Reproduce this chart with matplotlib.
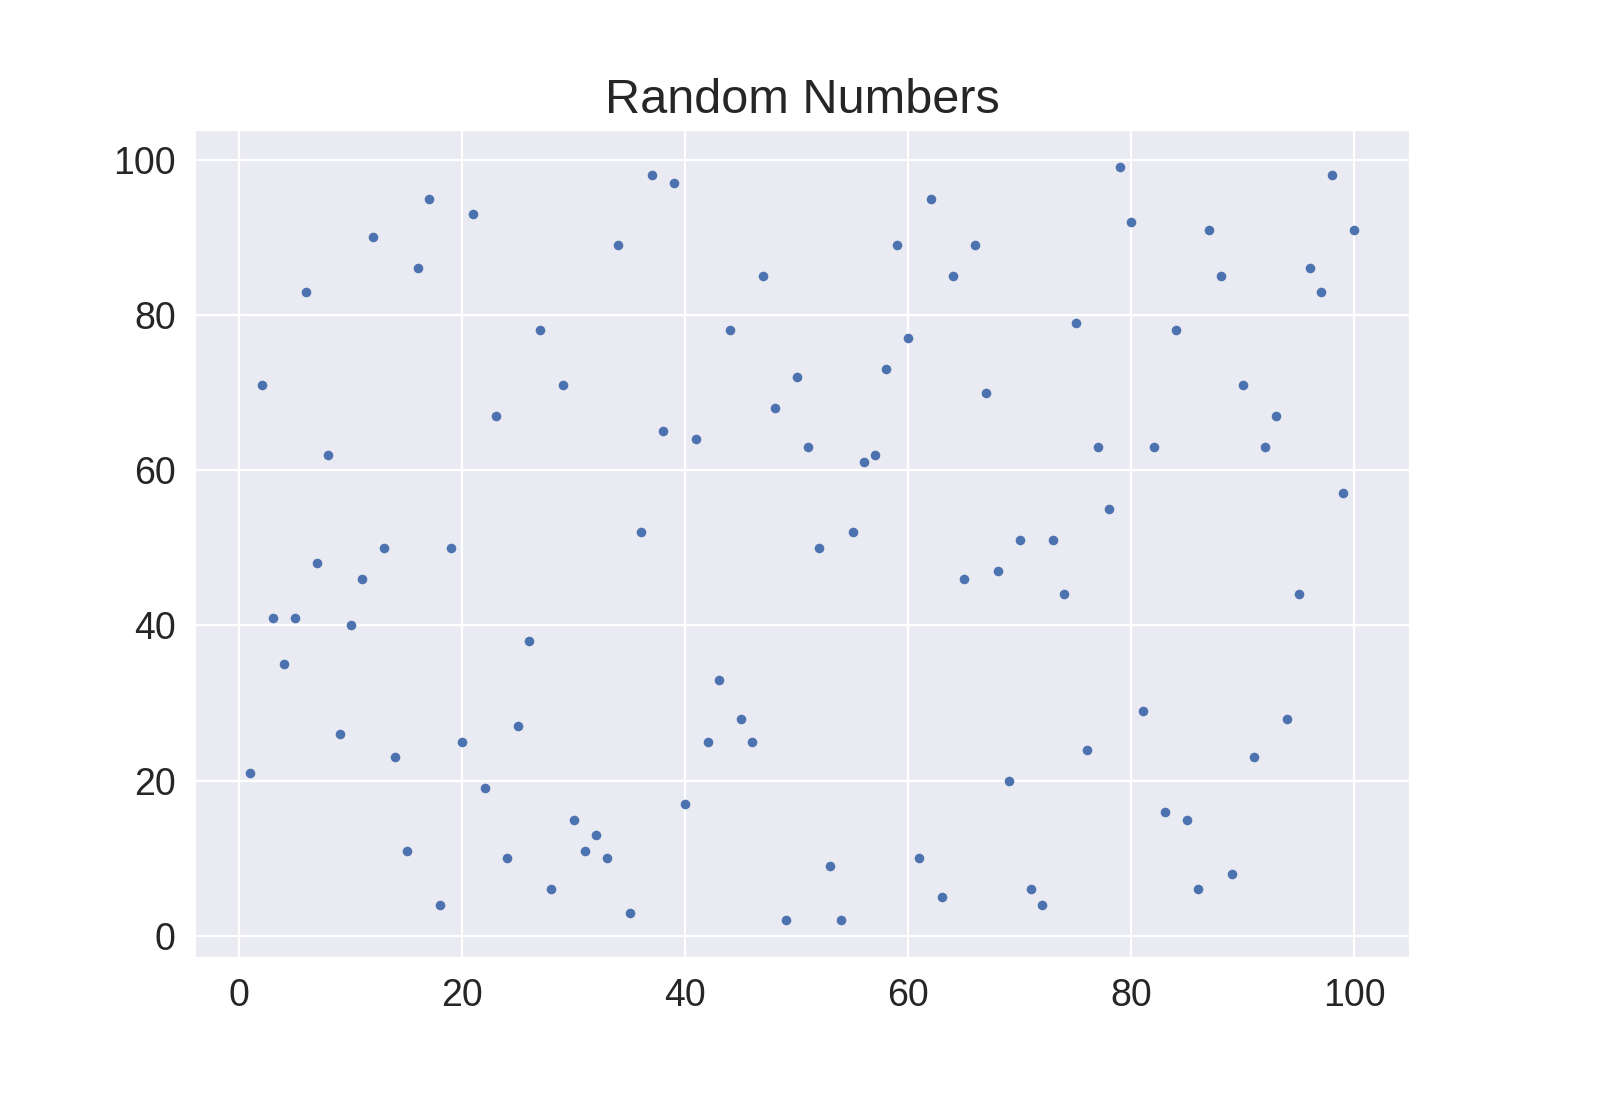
import matplotlib
matplotlib.use("Agg")
import matplotlib.pyplot as plt
import seaborn as sns

# values
xvalues = list(range(1, 101))
yvalues = [21, 71, 41, 35, 41, 83, 48, 62, 26, 40,
           46, 90, 50, 23, 11, 86, 95, 4, 50, 25,
           93, 19, 67, 10, 27, 38, 78, 6, 71, 15,
           11, 13, 10, 89, 3, 52, 98, 65, 97, 17,
           64, 25, 33, 78, 28, 25, 85, 68, 2, 72,
           63, 50, 9, 2, 52, 61, 62, 73, 89, 77,
           10, 95, 5, 85, 46, 89, 70, 47, 20, 51,
           6, 4, 51, 44, 79, 24, 63, 55, 99, 92,
           29, 63, 16, 78, 15, 6, 91, 85, 8, 71,
           23, 63, 67, 28, 44, 86, 83, 98, 57, 91]
title = "Random Numbers"

sns.set_style("darkgrid")
plt.rcParams['font.family'] = ['Liberation Sans', 'DejaVu Sans']

fig, ax = plt.subplots(figsize=(8, 5.5), dpi=200)
fig.subplots_adjust(left=0.122, right=0.881, bottom=0.129, top=0.882)

# plain scatter, seaborn blue dots
ax.scatter(xvalues, yvalues, s=12, color="#4C72B0", linewidths=0)
ax.set_xticks([0, 20, 40, 60, 80, 100])
ax.set_yticks([0, 20, 40, 60, 80, 100])
ax.tick_params(labelsize=13.5, colors="#262626")
ax.set_title(title, fontsize=17.5, color="#262626")

plt.savefig("out.png")
